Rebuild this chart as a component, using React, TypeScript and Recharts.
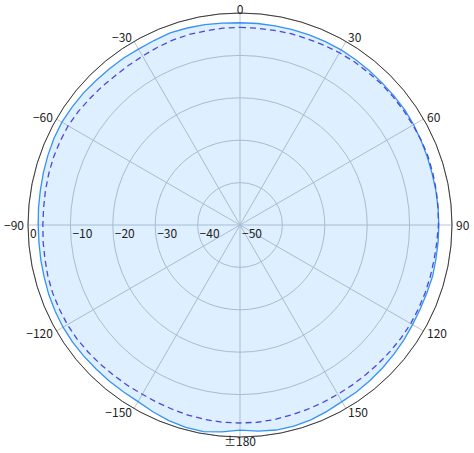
import React from "react";
import { RadarChart, Radar, PolarGrid, PolarAngleAxis, PolarRadiusAxis } from "recharts";

// direction in degrees, 0 = top, clockwise, 5 degree steps
const ANGLES = [
  0, 5, 10, 15, 20, 25, 30, 35, 40, 45, 50, 55, 60, 65, 70, 75, 80, 85,
  90, 95, 100, 105, 110, 115, 120, 125, 130, 135, 140, 145, 150, 155, 160, 165, 170, 175,
  180, 185, 190, 195, 200, 205, 210, 215, 220, 225, 230, 235, 240, 245, 250, 255, 260, 265,
  270, 275, 280, 285, 290, 295, 300, 305, 310, 315, 320, 325, 330, 335, 340, 345, 350, 355,
];

// measured pattern (dB), solid / filled
const MEASURED = [
  -2.3, -2.3, -2.3, -2.3, -2.3, -2.3, -2.3, -2.4, -2.5, -2.6, -2.6, -2.6, -2.7, -2.9, -3.0, -3.1, -3.1, -3.1,
  -3.1, -3.1, -3.1, -3.0, -3.1, -3.1, -3.0, -2.8, -2.6, -2.4, -2.2, -2.0, -1.9, -1.5, -1.1, -0.9, -0.9, -1.2,
  -1.6, -1.0, -0.5, -0.6, -0.9, -1.4, -1.9, -2.0, -2.0, -2.0, -1.9, -1.8, -1.8, -1.9, -2.0, -2.2, -2.3, -2.4,
  -2.4, -2.3, -2.2, -2.0, -1.8, -1.6, -1.5, -1.6, -1.7, -1.9, -2.0, -2.0, -2.1, -2.0, -1.8, -1.9, -2.0, -2.2,
];

// reference pattern (dB), dashed
const REFERENCE = [
  -3.4, -3.4, -3.4, -3.3, -3.3, -3.2, -3.1, -3.0, -3.0, -2.9, -2.9, -2.9, -2.9, -2.8, -2.8, -2.9, -3.0, -3.1,
  -3.2, -3.4, -3.5, -3.5, -3.5, -3.5, -3.5, -3.6, -3.7, -3.8, -3.9, -3.9, -3.9, -3.8, -3.7, -3.6, -3.4, -3.3,
  -3.3, -3.3, -3.4, -3.5, -3.7, -3.8, -3.9, -3.8, -3.7, -3.5, -3.3, -3.1, -3.0, -3.0, -3.0, -3.1, -3.3, -3.4,
  -3.5, -3.5, -3.4, -3.3, -3.2, -3.2, -3.2, -3.4, -3.7, -3.9, -4.1, -4.1, -4.0, -3.8, -3.6, -3.5, -3.5, -3.4,
];

const LABEL_ANGLES = [0, 30, 60, 90, 120, 150, 180, 210, 240, 270, 300, 330];
const LABEL_TEXTS = ["0", "30", "60", "90", "120", "150", "±180", "−150", "−120", "−90", "−60", "−30"];
const SPOKES = [0, 30, 60, 90, 120, 150, 180, 210, 240, 270, 300, 330];

const data = ANGLES.map((a, i) => ({ a, m: MEASURED[i], r: REFERENCE[i] }));

const FONT = "'Noto Sans CJK JP', 'Noto Sans', sans-serif";

function AngleTick(props: any) {
  const { x, y, payload, textAnchor } = props;
  const idx = LABEL_ANGLES.indexOf(Number(payload.value));
  if (idx < 0) return null;
  return (
    <text x={x} y={y} dy={4.5} textAnchor={textAnchor} fill="#222" fontSize={12} fontFamily={FONT}>
      {LABEL_TEXTS[idx]}
    </text>
  );
}

function RadiusTick(props: any) {
  const { x, y, payload } = props;
  return (
    <text x={x + 2} y={y + 13} textAnchor="start" fill="#222" fontSize={12} fontFamily={FONT}>
      {String(payload.value).replace("-", "−")}
    </text>
  );
}

export default function App() {
  return (
    <div style={{ position: "absolute", left: 0, top: 0, width: 474, height: 453, background: "#fff" }}>
      <RadarChart
        width={474}
        height={453}
        data={data}
        cx={240}
        cy={225}
        outerRadius={212}
        startAngle={90}
        endAngle={-270}
        margin={{ top: 0, right: 0, bottom: 0, left: 0 }}
      >
        <PolarGrid gridType="circle" polarAngles={SPOKES} stroke="#bfc3ca" strokeWidth={1} />
        <PolarAngleAxis
          dataKey="a"
          axisLineType="circle"
          stroke="#3a3a3a"
          tickLine={false}
          tickSize={4}
          tick={<AngleTick />}
        />
        <PolarRadiusAxis
          angle={180}
          domain={[-50, 0]}
          tickCount={6}
          axisLine={false}
          tickLine={false}
          tick={<RadiusTick />}
        />
        <Radar
          dataKey="m"
          stroke="#3593f2"
          strokeWidth={1.3}
          fill="#3399ff"
          fillOpacity={0.16}
          dot={false}
          isAnimationActive={false}
        />
        <Radar
          dataKey="r"
          stroke="#4848dc"
          strokeWidth={1.3}
          strokeDasharray="6 4"
          fill="none"
          fillOpacity={0}
          dot={false}
          isAnimationActive={false}
        />
      </RadarChart>
    </div>
  );
}
